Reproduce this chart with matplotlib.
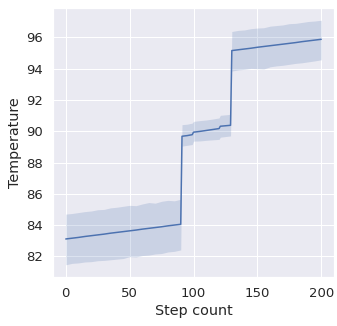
import matplotlib
matplotlib.use("Agg")
import matplotlib.pyplot as plt
import seaborn as sns

# mean temperature per step with the lower / upper edge of the error band
steps = [0, 5, 10, 15, 20, 25, 30, 35, 40, 45, 50, 55, 60, 65, 70, 75, 80, 85, 90,
         91, 95, 99, 100, 105, 110, 115, 120, 121, 125, 129,
         130, 135, 140, 145, 150, 155, 160, 165, 170, 175, 180, 185, 190, 195, 200]
temp_mean = [83.11, 83.16, 83.21, 83.27, 83.32, 83.37, 83.42, 83.48, 83.53, 83.58,
             83.63, 83.68, 83.74, 83.79, 83.84, 83.89, 83.95, 84.00, 84.05,
             89.68, 89.72, 89.78, 89.94, 89.99, 90.05, 90.11, 90.17, 90.32, 90.35, 90.38,
             95.16, 95.21, 95.26, 95.31, 95.37, 95.42, 95.47, 95.52, 95.57, 95.62,
             95.67, 95.73, 95.78, 95.83, 95.88]
temp_lo = [81.46, 81.55, 81.58, 81.64, 81.66, 81.72, 81.74, 81.78, 81.82, 81.86,
           81.98, 81.96, 82.05, 82.08, 82.15, 82.18, 82.28, 82.32, 82.41,
           89.05, 89.10, 89.15, 89.37, 89.38, 89.42, 89.45, 89.48, 89.62, 89.66, 89.70,
           93.85, 93.92, 93.96, 94.02, 94.00, 93.98, 94.12, 94.18, 94.22, 94.28,
           94.34, 94.38, 94.44, 94.50, 94.57]
temp_hi = [84.70, 84.74, 84.80, 84.86, 84.90, 84.98, 85.00, 85.10, 85.14, 85.20,
           85.26, 85.24, 85.35, 85.44, 85.40, 85.52, 85.58, 85.55, 85.65,
           90.42, 90.45, 90.52, 90.63, 90.68, 90.72, 90.78, 90.85, 91.02, 91.05, 91.08,
           96.38, 96.45, 96.48, 96.56, 96.60, 96.62, 96.72, 96.76, 96.80, 96.88,
           96.90, 96.96, 97.02, 97.05, 97.10]

sns.set_theme()
BLUE = "#4c72b0"

fig = plt.figure(figsize=(337 / 72, 326 / 72), dpi=72)
ax = fig.add_axes([53 / 337, 1 - 277 / 326, 281 / 337, 269 / 326])

ax.fill_between(steps, temp_lo, temp_hi, color=BLUE, alpha=0.2, linewidth=0)
ax.plot(steps, temp_mean, color=BLUE, lw=1.5)

ax.set_xticks([0, 50, 100, 150, 200])
ax.set_yticks([82, 84, 86, 88, 90, 92, 94, 96])
ax.tick_params(labelsize=13.2, pad=4)
ax.set_xlabel("Step count", fontsize=14.4)
ax.set_ylabel("Temperature", fontsize=14.4)

fig.savefig("out.png", dpi=72)
